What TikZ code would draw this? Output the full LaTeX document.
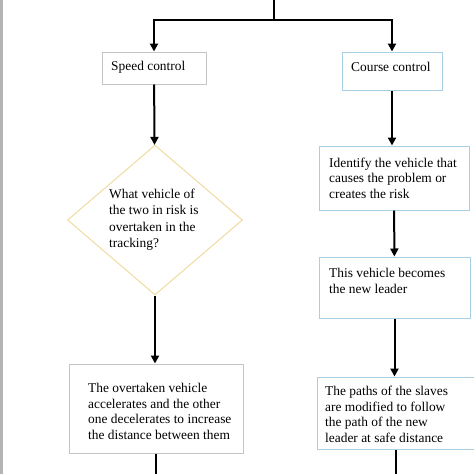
\documentclass[tikz,border=0pt]{standalone}
\usepackage{fontspec}
\setmainfont{Liberation Serif}
\usetikzlibrary{arrows.meta,shapes.geometric}
\definecolor{boxgray}{HTML}{C4C4C4}
\definecolor{boxblue}{HTML}{A8CFE2}
\definecolor{diayel}{HTML}{F0DCA0}
\definecolor{bargray}{HTML}{B4B4B4}
\begin{document}
\begin{tikzpicture}[x=1pt,y=-1pt,
  graybox/.style={draw=boxgray,line width=1pt,rectangle,inner sep=0pt},
  bluebox/.style={draw=boxblue,line width=1pt,rectangle,inner sep=0pt},
  decision/.style={draw=diayel,line width=1pt,diamond,inner sep=0pt},
  txt/.style={font=\fontsize{13.4}{15.6}\selectfont,align=left,inner sep=0pt,anchor=north west},
  arr/.style={line width=2pt,-{Triangle[length=8pt,width=8pt]}},
  conn/.style={line width=2pt}]
\useasboundingbox (0,0) rectangle (474,474);
\fill[white] (0,0) rectangle (474,474);
\fill[bargray] (0,0) rectangle (2.5,474);

% boxes
\node[graybox,minimum width=104,minimum height=32] (sc) at (154,68) {};
\node[bluebox,minimum width=100,minimum height=38] (cc) at (392,71) {};
\node[decision,minimum width=175,minimum height=150] (dq) at (155,220) {};
\node[graybox,minimum width=174,minimum height=89] (ov) at (156,408.5) {};
\node[bluebox,minimum width=150,minimum height=64] (id) at (394,178) {};
\node[bluebox,minimum width=151,minimum height=61] (tv) at (394.5,287.5) {};
\node[bluebox,minimum width=158,minimum height=72] (pb) at (396,413) {};

% texts
\node[txt] (tsc) at (111,61.5) {Speed control};
\node[txt] (tcc) at (351,62.5) {Course control};
\node[txt,font=\fontsize{13.4}{16.5}\selectfont] (tdq) at (109,188.5) {What vehicle of\\the two in risk is\\overtaken in the\\tracking?};
\node[txt] (tov) at (88,383) {The overtaken vehicle\\accelerates and the other\\one decelerates to increase\\the distance between them};
\node[txt] (tid) at (329,157.5) {Identify the vehicle that\\causes the problem or\\creates the risk};
\node[txt] (ttv) at (329,268) {This vehicle becomes\\the new leader};
\node[txt] (tpb) at (325,386) {The paths of the slaves\\are modified to follow\\the path of the new\\leader at safe distance};

% connectors
\coordinate (top) at (274,0);
\coordinate (j) at (274,20);
\coordinate (endl) at (156,474);
\coordinate (endr) at (396,474);
\draw[conn] (top) -- (j);
\draw[arr] (j) -| (sc);
\draw[arr] (j) -| (cc);
\draw[arr] (sc) -- (dq);
\draw[arr] (dq.south) -- (dq.south |- ov.north);
\draw[conn] (ov.south) -- (endl);
\draw[arr] (cc.south) -- (cc.south |- id.north);
\draw[arr] (id) -- (tv);
\draw[arr] (tv.south) -- (tv.south |- pb.north);
\draw[conn] (pb.south) -- (endr);
\end{tikzpicture}
\end{document}
